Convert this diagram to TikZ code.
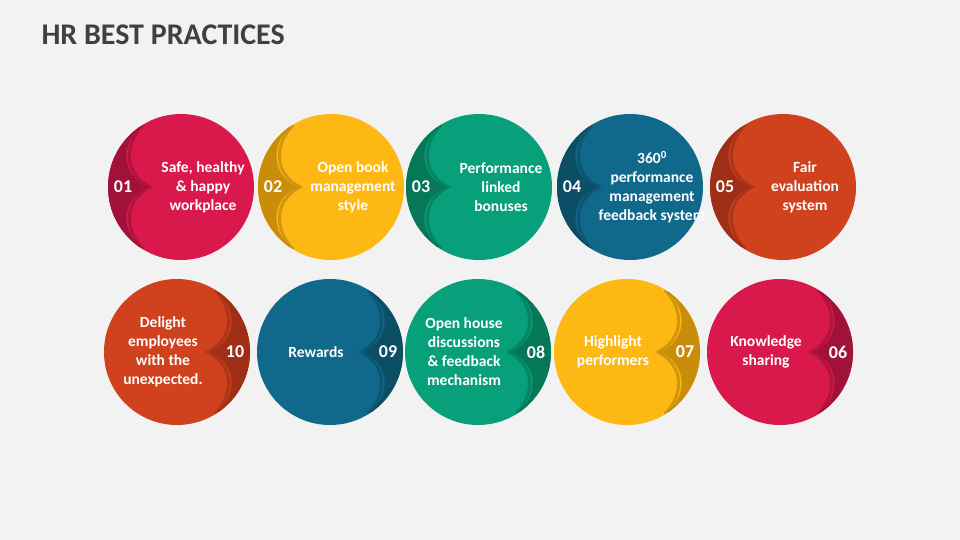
\documentclass[tikz,border=0pt]{standalone}
\usepackage{fontspec}
\setmainfont{Carlito}
\begin{document}
\begin{tikzpicture}[x=1pt,y=-1pt,
  lbl/.style={text=white,font=\bfseries\fontsize{15.5}{19}\selectfont,align=center},
  num/.style={text=white,font=\bfseries\fontsize{18}{19}\selectfont}]
\definecolor{bg}{HTML}{F2F2F2}
\definecolor{cA}{HTML}{D9184B}\definecolor{dA}{HTML}{A0123A}
\definecolor{cB}{HTML}{FDB813}\definecolor{dB}{HTML}{C98D0A}
\definecolor{cC}{HTML}{07A07A}\definecolor{dC}{HTML}{067858}
\definecolor{cD}{HTML}{10698A}\definecolor{dD}{HTML}{0B4E66}
\definecolor{cE}{HTML}{D0411E}\definecolor{dE}{HTML}{9E2F16}
\fill[bg] (0,0) rectangle (960,540);
\node[anchor=west,text=black!75,font=\bfseries\fontsize{30}{34}\selectfont] (title) at (38,35) {HR BEST PRACTICES};
\newcommand\bub[8]{% x y fill dark s name number text
  \begin{scope}[shift={(#1,#2)},xscale=#5]
  \fill[#3] (0,0) circle (73);
  \begin{scope}
  \clip (0,0) circle (73);
  \fill[#4] (-41,-80) -- (-41,-60) .. controls (-62,-40) and (-58,-12) .. (-34,0)
     .. controls (-58,12) and (-62,40) .. (-41,60) -- (-41,80) -- (-80,80) -- (-80,-80) -- cycle;
  \draw[black,opacity=.18,line width=3] (-38,-62) .. controls (-59,-40) and (-55,-12) .. (-31,0)
     .. controls (-55,12) and (-59,40) .. (-38,62);
  \end{scope}
  \end{scope}
  \node[num] (#6n) at ({#1-58*#5},#2) {#7};
  \node[lbl] (#6) at ({#1+(#5>0?22:-14)},#2) {#8};}
\bub{181}{187}{cA}{dA}{1}{a}{01}{Safe, healthy\\\& happy\\workplace}
\bub{331}{187}{cB}{dB}{1}{b}{02}{Open book\\management\\style}
\bub{479}{187}{cC}{dC}{1}{c}{03}{Performance\\linked\\bonuses}
\bub{630}{187}{cD}{dD}{1}{d}{04}{360\textsuperscript{0}\\performance\\management\\feedback system}
\bub{783}{187}{cE}{dE}{1}{e}{05}{Fair\\evaluation\\system}
\bub{177}{352}{cE}{dE}{-1}{f}{10}{Delight\\employees\\with the\\unexpected.}
\bub{330}{352}{cD}{dD}{-1}{g}{09}{Rewards}
\bub{478}{352}{cC}{dC}{-1}{h}{08}{Open house\\discussions\\\& feedback\\mechanism}
\bub{627}{352}{cB}{dB}{-1}{i}{07}{Highlight\\performers}
\bub{780}{352}{cA}{dA}{-1}{j}{06}{Knowledge\\sharing}
\end{tikzpicture}
\end{document}
